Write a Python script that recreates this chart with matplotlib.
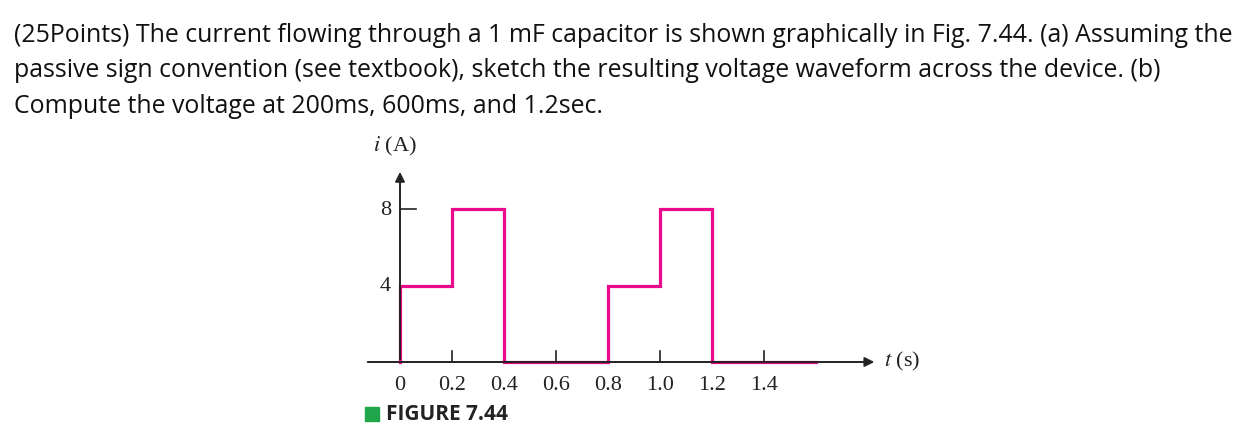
import matplotlib
matplotlib.use("Agg")
import matplotlib.pyplot as plt
from matplotlib.patches import Rectangle

t_edges = [0.0, 0.2, 0.4, 0.8, 1.0, 1.2, 1.6]
i_vals = [4, 8, 0, 4, 8, 0]
xticks = [0.2, 0.4, 0.6, 0.8, 1.0, 1.2, 1.4]
xlabels = ["0", "0.2", "0.4", "0.6", "0.8", "1.0", "1.2", "1.4"]
yticks = [4, 8]

W, H = 1251, 435
fig = plt.figure(figsize=(W/100, H/100), dpi=100)

lines = ["(25Points) The current flowing through a 1 mF capacitor is shown graphically in Fig. 7.44. (a) Assuming the",
         "passive sign convention (see textbook), sketch the resulting voltage waveform across the device. (b)",
         "Compute the voltage at 200ms, 600ms, and 1.2sec."]
for k, s in enumerate(lines):
    fig.text(14/W, 1 - (42 + 35.5*k)/H, s, fontsize=17.95, family="Open Sans",
             ha="left", va="baseline", color="#111111")

x0p, x1p, y0p, y1p = 355, 885, 165, 372
ax = fig.add_axes([x0p/W, 1 - y1p/H, (x1p-x0p)/W, (y1p-y0p)/H])
ax.set_xlim((x0p-400)/260, (x1p-400)/260)
ax.set_ylim((363-y1p)/19.1, (363-y0p)/19.1)
ax.axis("off")

ax.annotate("", xy=(1.835, 0), xytext=(-0.135, 0),
            arrowprops=dict(arrowstyle="-|>", color="#222222", lw=1.4, mutation_scale=14))
ax.annotate("", xy=(0, 10.1), xytext=(0, 0),
            arrowprops=dict(arrowstyle="-|>", color="#222222", lw=1.4, mutation_scale=14))
for xt in xticks:
    ax.plot([xt, xt], [0, 0.55], color="#222222", lw=1.2)
ax.plot([0, 0.06], [8, 8], color="#222222", lw=1.2)

xs, ys = [t_edges[0]], [0]
for k, v in enumerate(i_vals):
    xs += [t_edges[k], t_edges[k+1]]
    ys += [v, v]
ax.plot(xs, ys, color="#ec0a8c", lw=2.3, solid_joinstyle="miter")

serif = "Liberation Serif"
fs = 16
for xt, lab in zip([0] + xticks, xlabels):
    ax.text(xt, -0.7, lab, ha="center", va="top", fontsize=fs, family=serif, color="#222222")
for yt in yticks:
    ax.text(-0.035, yt, str(yt), ha="right", va="center", fontsize=fs, family=serif, color="#222222")
ax.text(-0.02, 10.75, "$\\mathit{i}$ (A)", ha="center", va="bottom", fontsize=fs, family=serif,
        color="#222222", math_fontfamily="stix")
ax.text(1.86, 0.1, "$\\mathit{t}$ (s)", ha="left", va="center", fontsize=fs, family=serif,
        color="#222222", math_fontfamily="stix", clip_on=False)

fig.patches.append(Rectangle((365/W, 1-422/H), 14/W, 14/H, transform=fig.transFigure,
                             color="#1fa54a"))
fig.text(386/W, 1-415/H, "FIGURE 7.44", fontsize=15, fontweight="bold", family="Open Sans",
         va="center", ha="left", color="#222222")

fig.savefig("out.png", dpi=100)
